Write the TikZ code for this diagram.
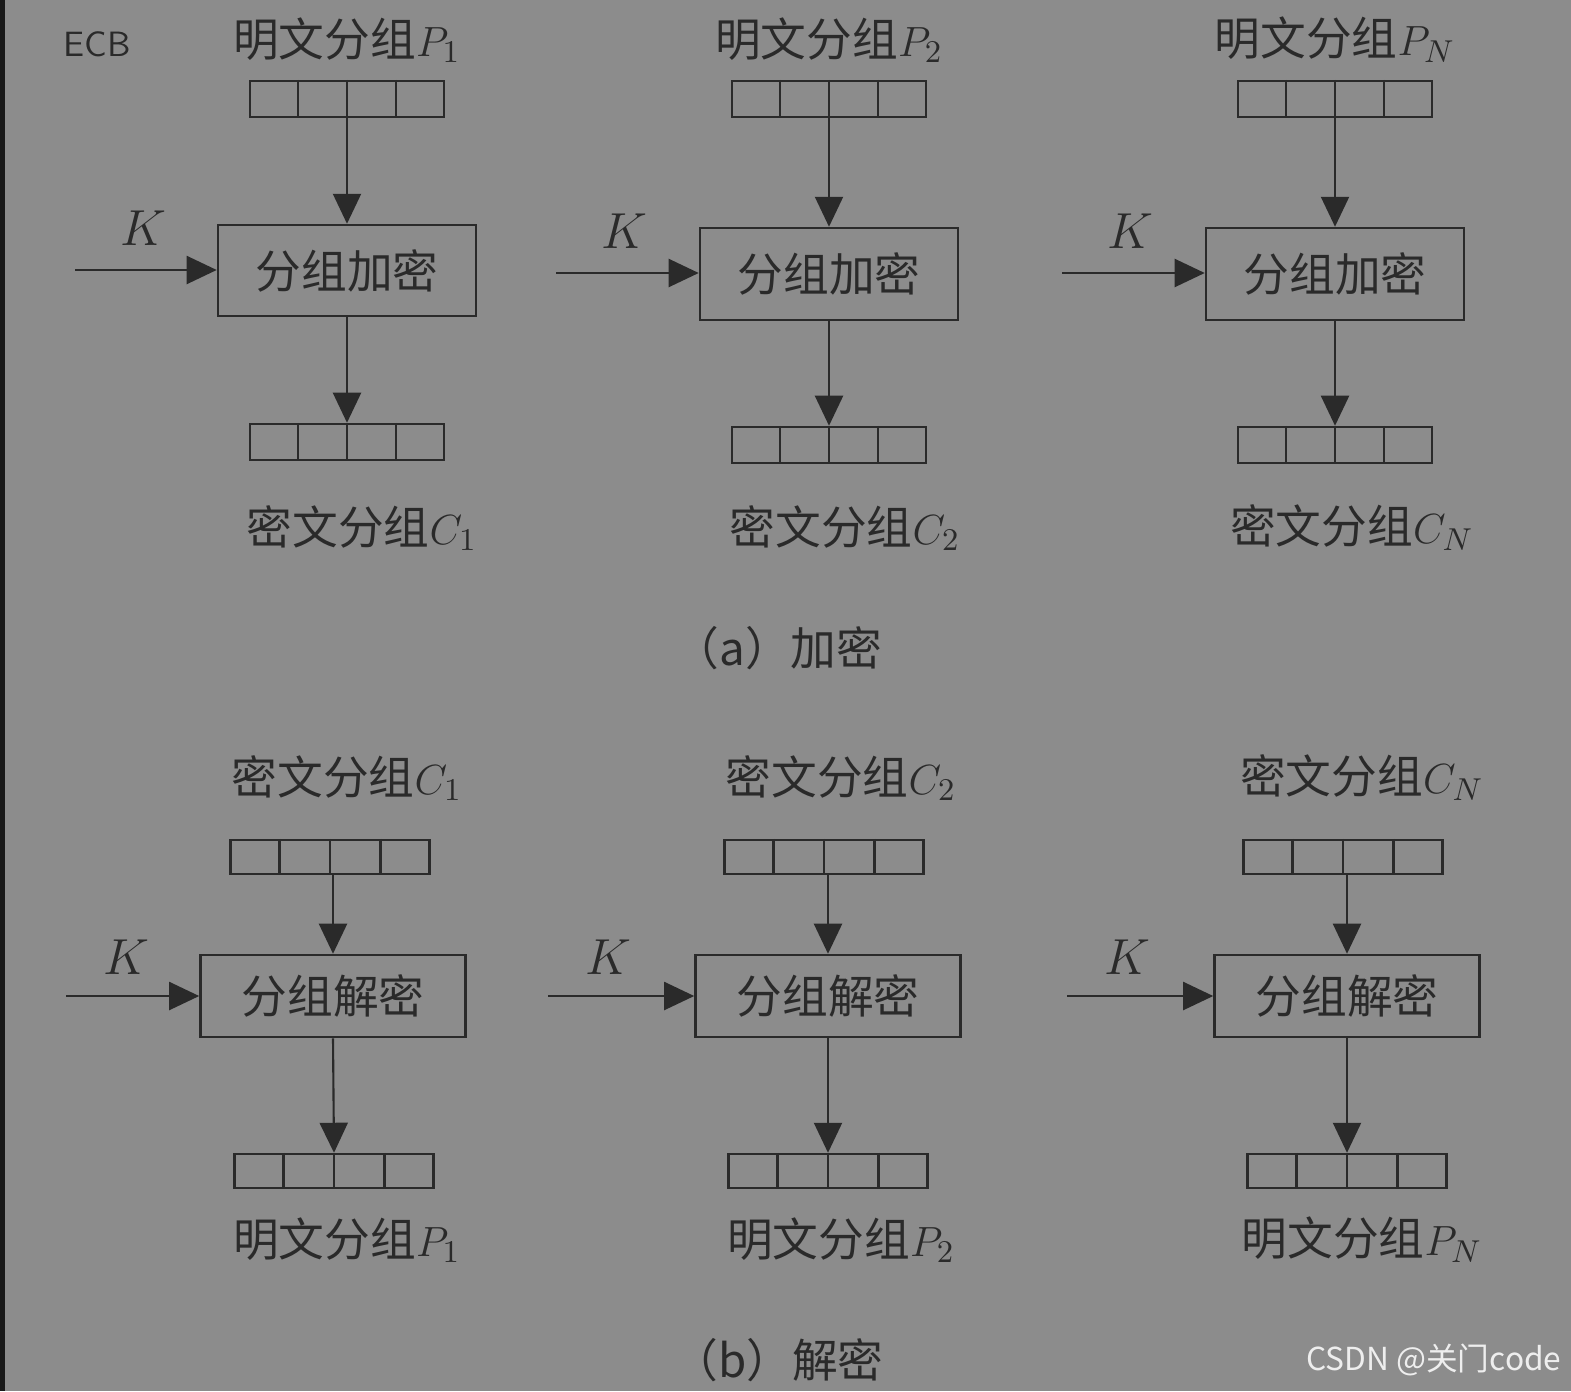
\documentclass[tikz,border=0pt]{standalone}
\usepackage{fontspec}
\newfontfamily\cjk{Noto Sans CJK SC}
\usetikzlibrary{arrows.meta,calc}
\definecolor{bg}{HTML}{8C8C8C}
\definecolor{ink}{HTML}{2A2A2A}
\tikzset{x=0.01cm,y=-0.01cm,
 every node/.style={inner sep=0pt,text=ink},
 lab/.style={font=\cjk\fontsize{13}{13}\selectfont},
 boxn/.style={draw=ink,line width=0.7pt,font=\cjk\fontsize{13}{13}\selectfont},
 cellbox/.style={draw=ink,line width=0.7pt,minimum height=0.36cm},
 arr/.style={draw=ink,line width=0.6pt,-{Triangle[length=0.3cm,width=0.28cm]}},
 klab/.style={font=\fontsize{15}{15}\selectfont},
}
\newcommand\regcells[1]{\foreach \f in {0.25,0.5,0.75}{\draw[ink,line width=0.7pt] ($(#1.north west)!\f!(#1.north east)$) -- ($(#1.south west)!\f!(#1.south east)$);}}
\begin{document}
\begin{tikzpicture}
\fill[bg] (0,0) rectangle (1571,1391);
\fill[ink!60!black] (0,0) rectangle (5,1391);
\useasboundingbox (0,0) rectangle (1571,1391);
\node[font=\sffamily\fontsize{10}{10}\selectfont] (ecb) at (97,44) {ECB};
% encryption
\foreach \i/\cx/\rx/\bt/\bb/\ky/\kx/\oy/\sub/\lx in {1/347/347/225/316/270/75/442/1/362, 2/829/829/228/320/273/556/445/2/845, 3/1335/1335/228/320/273/1062/445/N/1352}{
 \node[lab] (pt\i) at (\cx,40) {明文分组$P_{\sub}$};
 \node[cellbox,minimum width=1.94cm] (pr\i) at (\rx,99) {};
 \regcells{pr\i}
 \node[boxn,minimum width=2.58cm,minimum height={(\bb-\bt)*0.01cm}] (eb\i) at (\cx,{(\bt+\bb)/2}) {分组加密};
 \coordinate (ks\i) at (\kx,\ky);
 \node[klab] (kl\i) at ({\kx+68},{\ky-42}) {$K$};
 \draw[arr] (ks\i) -- (ks\i -| eb\i.west);
 \draw[arr] (pr\i.south) -- (eb\i.north);
 \node[cellbox,minimum width=1.94cm] (cr\i) at (\rx,\oy) {};
 \regcells{cr\i}
 \draw[arr] (eb\i.south) -- (cr\i.north);
 \node[lab] (cl\i) at (\lx,528) {密文分组$C_{\sub}$};
}
\node[lab] (capa) at (778,648) {（a）加密};
% decryption
\foreach \i/\cx/\ix/\ox/\kx/\sub/\lx in {1/333/330/334/66/1/347, 2/828/824/828/548/2/841, 3/1347/1343/1347/1067/N/1362}{
 \node[lab] (ct\i) at (\lx,778) {密文分组$C_{\sub}$};
 \node[cellbox,minimum width=1.99cm,minimum height=0.34cm] (ir\i) at (\ix,857) {};
 \regcells{ir\i}
 \node[boxn,minimum width=2.65cm,minimum height=0.82cm] (db\i) at (\cx,996) {分组解密};
 \coordinate (dk\i) at (\kx,996);
 \node[klab] (dl\i) at ({\kx+60},957) {$K$};
 \draw[arr] (dk\i) -- (db\i.west);
 \draw[arr] (ir\i.south -| db\i.north) -- (db\i.north);
 \node[cellbox,minimum width=1.99cm,minimum height=0.34cm] (or\i) at (\ox,1171) {};
 \regcells{or\i}
 \draw[arr] (db\i.south) -- (or\i.north);
 \node[lab] (pl\i) at (\lx,1240) {明文分组$P_{\sub}$};
}
\node[lab] (capb) at (778,1360) {（b）解密};
\node[font=\cjk\fontsize{9}{9}\selectfont,text=white!85!bg,anchor=east] (wm) at (1562,1360) {CSDN @关门code};
\end{tikzpicture}
\end{document}
